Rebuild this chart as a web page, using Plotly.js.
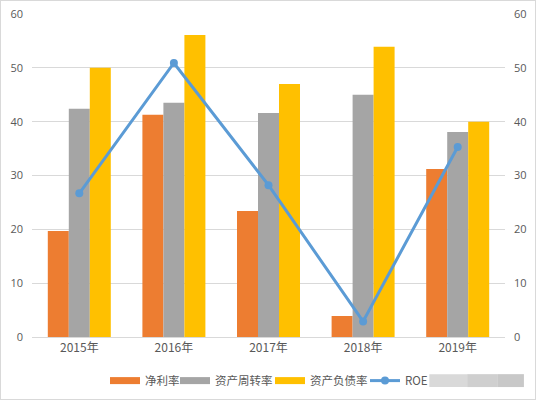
<!DOCTYPE html>
<html>
<head>
<meta charset="utf-8">
<script src="https://cdn.plot.ly/plotly-3.0.1.min.js"></script>
<style>
html,body{margin:0;padding:0;background:#fff;}
#wrap{width:536px;height:400px;box-sizing:border-box;border:1px solid #d9d9d9;}
#chart{width:534px;height:398px;}
</style>
</head>
<body>
<div id="wrap"><div id="chart"></div></div>
<script>
const categories = ['2015年','2016年','2017年','2018年','2019年'];
const netMargin = [19.7, 41.3, 23.4, 3.9, 31.2];        // 净利率
const assetTurnover = [42.4, 43.5, 41.6, 45.0, 38.1];   // 资产周转率
const debtRatio = [50.0, 56.1, 47.0, 53.9, 40.0];       // 资产负债率
const roe = [26.7, 50.9, 28.2, 2.9, 35.3];              // ROE
const seriesNames = ['净利率','资产周转率','资产负债率','ROE'];
const axisTicks = [0,10,20,30,40,50,60];

const colors = ['#ed7d31','#a5a5a5','#ffc000','#5b9bd5'];
const font = {family: 'Open Sans, Noto Sans CJK SC, sans-serif', size: 11, color: '#595959'};
const legendNames = ['legend','legend2','legend3','legend4'];

const bars = [netMargin, assetTurnover, debtRatio].map((vals, i) => ({
  type: 'bar', x: categories, y: vals, name: seriesNames[i],
  marker: {color: colors[i]}, showlegend: false, hoverinfo: 'x+y'
}));
const legendBars = [0,1,2].map(i => ({
  type: 'scatter', mode: 'lines', x: [null], y: [null], name: seriesNames[i],
  line: {color: colors[i], width: 7}, showlegend: true, legend: legendNames[i]
}));
const line = {
  type: 'scatter', mode: 'lines+markers', x: categories, y: roe, name: seriesNames[3],
  yaxis: 'y2', line: {color: colors[3], width: 3}, marker: {color: colors[3], size: 8},
  legend: legendNames[3]
};

const plotLeft = 32, plotW = 473;
const textStarts = [145, 215, 310, 405];
function legendAt(px) {
  return {orientation: 'h', x: (px - plotLeft) / plotW, xanchor: 'left', y: -0.135, yanchor: 'middle',
          font: {family: 'Noto Sans CJK SC, sans-serif', size: 11.5, color: '#595959'},
          itemwidth: 30, itemclick: false, bgcolor: 'rgba(0,0,0,0)'};
}

const layout = {
  width: 534, height: 398,
  margin: {l: 31, r: 30, t: 13, b: 62, autoexpand: false},
  paper_bgcolor: '#fff', plot_bgcolor: '#fff',
  font: font,
  barmode: 'group', bargap: 0.334, bargroupgap: 0,
  xaxis: {type: 'category', showline: true, linecolor: '#d9d9d9', linewidth: 1, automargin: false,
          ticks: '', tickfont: {family: 'Noto Sans CJK SC, sans-serif', size: 12, color: '#595959'}, fixedrange: true},
  yaxis: {range: [0, 60], tickvals: axisTicks, showgrid: true, gridcolor: '#d9d9d9', zeroline: false, automargin: false,
          showline: false, ticks: '', ticklabelstandoff: 8, tickfont: font},
  yaxis2: {range: [0, 60], tickvals: axisTicks, overlaying: 'y', side: 'right', showgrid: false, automargin: false,
           zeroline: false, showline: false, ticks: '', ticklabelstandoff: 8, tickfont: font},
  showlegend: true,
  legend: legendAt(textStarts[0] - 40),
  legend2: legendAt(textStarts[1] - 40),
  legend3: legendAt(textStarts[2] - 40),
  legend4: legendAt(textStarts[3] - 40),
  shapes: [
    {type:'rect', xref:'paper', yref:'paper', x0:0.84, x1:0.92, y0:-0.155, y1:-0.115, fillcolor:'#d9d9d9', line:{width:0}},
    {type:'rect', xref:'paper', yref:'paper', x0:0.92, x1:0.985, y0:-0.155, y1:-0.115, fillcolor:'#cfcfcf', line:{width:0}},
    {type:'rect', xref:'paper', yref:'paper', x0:0.985, x1:1.04, y0:-0.155, y1:-0.115, fillcolor:'#c8c8c8', line:{width:0}}
  ]
};

Plotly.newPlot('chart', [...bars, ...legendBars, line], layout, {displayModeBar: false, staticPlot: true});
</script>
</body>
</html>
